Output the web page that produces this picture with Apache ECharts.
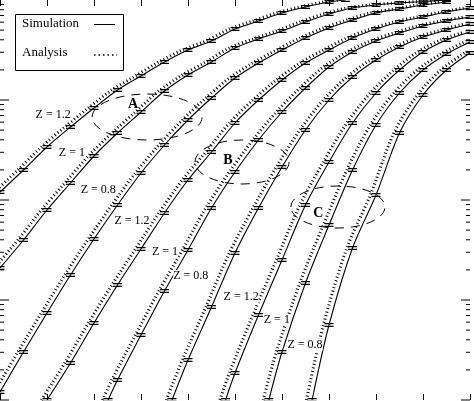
<!DOCTYPE html>
<html><head><meta charset="utf-8">
<script src="https://cdn.jsdelivr.net/npm/echarts@6/dist/echarts.min.js"></script>
<style>html,body{margin:0;padding:0;background:#fff}#c{width:474px;height:401px}</style>
</head><body><div id="c"></div>
<script>
// x values (axis units 0..10), y given as log10 exponent
const curveNames = ['A Z=1.2','A Z=1','A Z=0.8','B Z=1.2','B Z=1','B Z=0.8','C Z=1.2','C Z=1','C Z=0.8'];
const c1x = [0,0.5,1,1.5,2,2.5,3,3.5,4,4.5,5,5.5,6,6.5,7,7.35];
const c1e = [-1.92,-1.70,-1.47,-1.27,-1.08,-0.90,-0.76,-0.62,-0.50,-0.41,-0.29,-0.21,-0.13,-0.07,-0.02,0];
const c2x = [0,0.5,1,1.5,2,2.5,3,3.5,4,4.5,5,5.5,6,6.5,7,7.5,8,8.5,9,9.5];
const c2e = [-2.68,-2.40,-2.10,-1.83,-1.56,-1.33,-1.12,-0.91,-0.75,-0.62,-0.48,-0.39,-0.31,-0.22,-0.14,-0.08,-0.05,-0.03,-0.015,0];
const c3x = [0,0.5,1,1.5,2,2.5,3,3.5,4,4.5,5,5.5,6,6.5,7,7.5,8,8.5,9,9.5];
const c3e = [-3.92,-3.52,-3.13,-2.75,-2.39,-2.05,-1.73,-1.45,-1.20,-0.98,-0.78,-0.63,-0.50,-0.38,-0.28,-0.20,-0.13,-0.09,-0.05,-0.02];
const c4x = [1,1.5,2,2.5,3,3.5,4,4.5,5,5.5,6,6.5,7,7.5,8,8.5,9,9.5,10];
const c4e = [-4.00,-3.63,-3.23,-2.85,-2.49,-2.13,-1.80,-1.52,-1.23,-1.00,-0.80,-0.63,-0.50,-0.38,-0.29,-0.22,-0.17,-0.12,-0.08];
const c5x = [2.3,2.5,3,3.5,4,4.5,5,5.5,6,6.5,7,7.5,8,8.5,9,9.5,10];
const c5e = [-4.00,-3.80,-3.35,-2.91,-2.50,-2.08,-1.72,-1.40,-1.12,-0.88,-0.67,-0.52,-0.41,-0.33,-0.26,-0.21,-0.17];
const c6x = [3.66,4,4.5,5,5.5,6,6.5,7,7.5,8,8.5,9,9.5,10];
const c6e = [-4.00,-3.60,-3.07,-2.53,-2.08,-1.67,-1.30,-1.00,-0.77,-0.60,-0.47,-0.37,-0.30,-0.24];
const c7x = [4.8,5,5.5,6,6.5,7,7.5,8,8.5,9,9.5,10];
const c7e = [-4.00,-3.73,-3.15,-2.60,-2.05,-1.62,-1.23,-0.93,-0.70,-0.52,-0.40,-0.32];
const c8x = [5.72,6,6.5,7,7.5,8,8.5,9,9.5,10];
const c8e = [-4.00,-3.52,-2.83,-2.25,-1.70,-1.25,-0.93,-0.70,-0.54,-0.42];
const c9x = [6.64,7,7.5,8,8.5,9,9.5,10];
const c9e = [-4.00,-3.25,-2.48,-1.95,-1.33,-0.95,-0.70,-0.53];
const curvesX = [c1x,c2x,c3x,c4x,c5x,c6x,c7x,c8x,c9x];
const curvesE = [c1e,c2e,c3e,c4e,c5e,c6e,c7e,c8e,c9e];
// annotation labels [x, exponent, text]
const zLabels = [[1.13,-1.15,'Z = 1.2'],[1.53,-1.53,'Z = 1'],[2.09,-1.90,'Z = 0.8'],
  [2.81,-2.21,'Z = 1.2'],[3.51,-2.52,'Z = 1'],[4.06,-2.76,'Z = 0.8'],
  [5.13,-2.97,'Z = 1.2'],[5.89,-3.20,'Z = 1'],[6.49,-3.45,'Z = 0.8']];
const groupEllipses = [[3.13,-1.17,'A',2.83,-1.04],[5.15,-1.62,'B',4.85,-1.60],[7.19,-2.07,'C',6.77,-2.13]];

const serif = 'Liberation Serif';
const chart = echarts.init(document.getElementById('c'));
const series = [];
curvesX.forEach((xs,i)=>{
  const pts = xs.map((x,j)=>[x, Math.pow(10, curvesE[i][j])]);
  series.push({type:'line', name:'Analysis '+curveNames[i], xAxisIndex:1, data:pts, smooth:0.3, symbol:'none',
    lineStyle:{color:'#000', width:3, type:[1,2.6]}, z:2});
  series.push({type:'line', name:'Simulation '+curveNames[i], xAxisIndex:0, data:pts, smooth:0.3,
    symbol:'path://M0,0h10v1.4h-10zM0,3.2h10v1.4h-10z', symbolSize:[9,4], showAllSymbol:true,
    itemStyle:{color:'#000'}, lineStyle:{color:'#000', width:1.1}, z:3});
});
const ax = {min:0,max:10,interval:1,axisLine:{show:false},axisLabel:{show:false},splitLine:{show:false},
  axisTick:{inside:true,length:6,lineStyle:{color:'#000'}}};
chart.setOption({
  animation:false,
  grid:{left:0,right:4,top:0,bottom:1},
  xAxis:[Object.assign({type:'value',position:'bottom'},ax),
    {type:'value',min:0.12,max:10.12,show:false},
    Object.assign({type:'value',position:'top'},ax)],
  yAxis:{type:'log',min:1e-4,max:1,show:false},
  series
});
const g = [];
// left/right log ticks
const W = 470;
for(let k=-4;k<0;k++){
  for(let d=1;d<10;d++){
    const y = chart.convertToPixel({yAxisIndex:0}, d*Math.pow(10,k));
    const len = d===1?9:4;
    g.push({type:'line',shape:{x1:0,y1:y,x2:len,y2:y},style:{stroke:'#000',lineWidth:1}});
    g.push({type:'line',shape:{x1:W-len,y1:y,x2:W,y2:y},style:{stroke:'#000',lineWidth:1}});
  }
}
zLabels.forEach(l=>{
  const p = chart.convertToPixel({xAxisIndex:0,yAxisIndex:0},[l[0],Math.pow(10,l[1])]);
  g.push({type:'text',x:p[0],y:p[1],style:{text:l[2],font:'12px "'+serif+'"',fill:'#000',align:'center',verticalAlign:'middle',backgroundColor:'#fff'},z:10});
});
const erx=[55,47,47], ery=[23,22,21];
groupEllipses.forEach((e,i)=>{
  const p = chart.convertToPixel({xAxisIndex:0,yAxisIndex:0},[e[0],Math.pow(10,e[1])]);
  g.push({type:'ellipse',shape:{cx:p[0],cy:p[1],rx:erx[i],ry:ery[i]},style:{fill:null,stroke:'#000',lineWidth:1,lineDash:[9,7]},z:10});
  const q = chart.convertToPixel({xAxisIndex:0,yAxisIndex:0},[e[3],Math.pow(10,e[4])]);
  g.push({type:'text',x:q[0],y:q[1],style:{text:e[2],font:'bold 14px "'+serif+'"',fill:'#000',align:'center',verticalAlign:'middle'},z:10});
});
// legend
g.push({type:'rect',shape:{x:15.5,y:14.5,width:108,height:56},style:{fill:'#fff',stroke:'#000',lineWidth:1},z:20});
g.push({type:'text',x:22,y:24,style:{text:'Simulation',font:'13px "'+serif+'"',fill:'#000',verticalAlign:'middle'},z:21});
g.push({type:'line',shape:{x1:94,y1:24.5,x2:115,y2:24.5},style:{stroke:'#000',lineWidth:1},z:21});
g.push({type:'text',x:22,y:53,style:{text:'Analysis',font:'13px "'+serif+'"',fill:'#000',verticalAlign:'middle'},z:21});
g.push({type:'line',shape:{x1:94,y1:55,x2:117,y2:55},style:{stroke:'#000',lineWidth:1.5,lineDash:[1.5,3]},z:21});
chart.setOption({graphic:g});
</script></body></html>
